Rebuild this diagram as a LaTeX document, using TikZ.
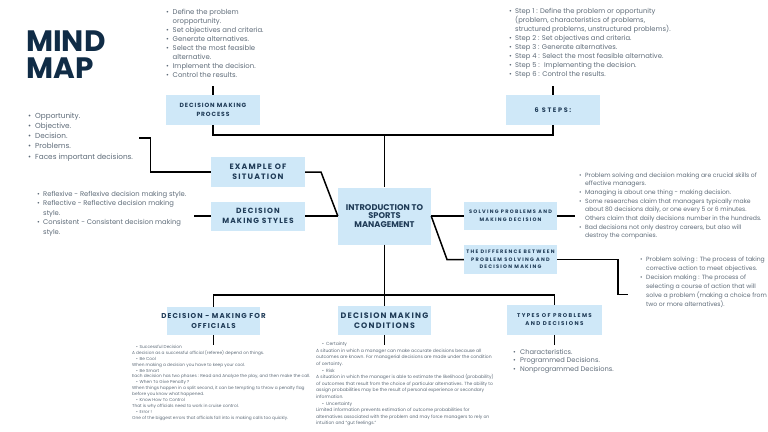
\documentclass[tikz,border=0pt]{standalone}
\usepackage{fontspec}
\setmainfont{Poppins}
\newfontfamily\hf{Poppins}[LetterSpace=15]
\newfontfamily\hfb{Poppins}[LetterSpace=25]
\definecolor{boxblue}{HTML}{CFE8F8}
\definecolor{navy}{HTML}{1F3B57}
\definecolor{titlenavy}{HTML}{102C46}
\definecolor{bodygrey}{HTML}{5E6B78}
\newlength\bw
\newcommand\bu{\makebox[\bw][l]{\textbullet}}
\newcommand\cn{\hspace*{\bw}}
\begin{document}
\begin{tikzpicture}[x=1pt,y=-1pt,
  box/.style={fill=boxblue,inner sep=0pt,align=center,text=navy},
  con/.style={line width=1.5pt,draw=black},
  txt/.style={anchor=north west,inner sep=0pt,align=left,text=bodygrey}]
\useasboundingbox (0,0) rectangle (768,431);

% title
\node[anchor=north west,inner sep=0pt,align=left,text=titlenavy,
  font=\fontsize{29.5}{27}\selectfont\bfseries] (title) at (26,31) {MIND\\MAP};

% boxes
\node[box,minimum width=94pt,minimum height=30pt,font=\fontsize{6}{8.5}\selectfont\hf\bfseries] (DMP) at (213,110) {DECISION MAKING\\PROCESS};
\node[box,minimum width=94pt,minimum height=30pt,font=\fontsize{6.5}{8}\selectfont\hfb\bfseries] (SIX) at (553,110) {6 STEPS:};
\node[box,minimum width=94pt,minimum height=30pt,font=\fontsize{7.8}{10}\selectfont\hf\bfseries] (EX) at (258,172) {EXAMPLE OF\\SITUATION};
\node[box,minimum width=94pt,minimum height=29pt,font=\fontsize{7.5}{10}\selectfont\hf\bfseries] (DMS) at (258,216) {DECISION\\MAKING STYLES};
\node[box,minimum width=93pt,minimum height=57pt,font=\fontsize{8.3}{8.6}\selectfont\bfseries] (C) at (384.5,216) {INTRODUCTION TO\\SPORTS\\MANAGEMENT};
\node[box,minimum width=93pt,minimum height=28pt,font=\fontsize{5}{8}\selectfont\hfb\bfseries] (SP) at (510.5,216) {SOLVING PROBLEMS AND\\MAKING DECISION};
\node[box,minimum width=93pt,minimum height=29pt,font=\fontsize{5}{7.5}\selectfont\hfb\bfseries] (DIFF) at (510.5,259.5) {THE DIFFERENCE BETWEEN\\PROBLEM SOLVING AND\\DECISION MAKING};
\node[box,minimum width=93pt,minimum height=28pt,font=\fontsize{7.1}{10}\selectfont\hf\bfseries] (OFF) at (213.5,321) {\makebox[0pt]{DECISION - MAKING FOR}\\\makebox[0pt]{OFFICIALS}};
\node[box,minimum width=93pt,minimum height=29pt,font=\fontsize{7.9}{10}\selectfont\hf\bfseries] (COND) at (384.5,320.5) {DECISION MAKING\\CONDITIONS};
\node[box,minimum width=95pt,minimum height=30pt,font=\fontsize{5.5}{8}\selectfont\hfb\bfseries] (TYPES) at (554.5,320) {TYPES OF PROBLEMS\\AND DECISIONS};

% text blocks
\node[txt,font=\fontsize{6.9}{9}\selectfont\setlength\bw{6.5pt}] (tc) at (166,8.7) {%
\bu Define the problem\\
\cn oropportunity.\\
\bu Set objectives and criteria.\\
\bu Generate alternatives.\\
\bu Select the most feasible\\
\cn alternative.\\
\bu Implement the decision.\\
\bu Control the results.};

\node[txt,font=\fontsize{6.8}{9}\selectfont\setlength\bw{6pt}] (tr) at (509,7.7) {%
\bu Step 1 : Define the problem or opportunity\\
\cn (problem, characteristics of problems,\\
\cn structured problems, unstructured problems).\\
\bu Step 2 : Set objectives and criteria.\\
\bu Step 3 : Generate alternatives.\\
\bu Step 4 : Select the most feasible alternative.\\
\bu Step 5 : \ Implementing the decision.\\
\bu Step 6 : Control the results.};

\node[txt,font=\fontsize{7.3}{10.2}\selectfont\setlength\bw{7pt}] (ll) at (28,112.5) {%
\bu Opportunity.\\
\bu Objective.\\
\bu Decision.\\
\bu Problems.\\
\bu Faces important decisions.};

\node[txt,font=\fontsize{6.8}{9.5}\selectfont\setlength\bw{6pt}] (rl) at (37,190.9) {%
\bu Reflexive - Reflexive decision making style.\\
\bu Reflective - Reflective decision making\\
\cn style.\\
\bu Consistent - Consistent decision making\\
\cn style.};

\node[txt,font=\fontsize{6.1}{8.7}\selectfont\setlength\bw{6pt}] (rt) at (579,172.2) {%
\bu Problem solving and decision making are crucial skills of\\
\cn effective managers.\\
\bu Managing is about one thing - making decision.\\
\bu Some researches claim that managers typically make\\
\cn about 80 decisions daily, or one every 5 or 6 minutes.\\
\cn Others claim that daily decisions number in the hundreds.\\
\bu Bad decisions not only destroy careers, but also will\\
\cn destroy the companies.};

\node[txt,font=\fontsize{6.1}{8.9}\selectfont\setlength\bw{6pt}] (rb) at (640,257) {%
\bu Problem solving : The process of taking\\
\cn corrective action to meet objectives.\\
\bu Decision making : The process of\\
\cn selecting a course of action that will\\
\cn solve a problem (making a choice from\\
\cn two or more alternatives).};

\node[txt,font=\fontsize{6.7}{8.6}\selectfont\setlength\bw{7pt}] (br) at (513,349) {%
\bu Characteristics.\\
\bu Programmed Decisions.\\
\bu Nonprogrammed Decisions.};

\node[txt,font=\fontsize{4.3}{5.9}\selectfont\setlength\bw{3.5pt}] (bl) at (132,345) {%
\hspace*{4pt}\bu Successful Decision\\
A decision as a successful official (referee) depend on things.\\
\hspace*{4pt}\bu Be Cool\\
When making a decision you have to keep your cool.\\
\hspace*{4pt}\bu Be Smart\\
Each decision has two phases : Read and Analyze the play, and then make the call.\\
\hspace*{4pt}\bu When To Give Penalty ?\\
When things happen in a split second, it can be tempting to throw a penalty flag\\
before you know what happened.\\
\hspace*{4pt}\bu Know How To Control\\
That is why officials need to work in cruise control.\\
\hspace*{4pt}\bu Error !\\
One of the biggest errors that officials fall into is making calls too quickly.};

\node[txt,font=\fontsize{4.5}{6.6}\selectfont\setlength\bw{4pt}] (bc) at (316,342) {%
\hspace*{6pt}\bu Certainty\\
A situation in which a manager can make accurate decisions because all\\
outcomes are known. For managerial decisions are made under the condition\\
of certainty.\\
\hspace*{6pt}\bu Risk\\
A situation in which the manager is able to estimate the likelihood (probability)\\
of outcomes that result from the choice of particular alternatives. The ability to\\
assign probabilities may be the result of personal experience or secondary\\
information.\\
\hspace*{6pt}\bu Uncertainty\\
Limited information prevents estimation of outcome probabilities for\\
alternatives associated with the problem and may force managers to rely on\\
intuition and “gut feelings.”};

% connector points
\coordinate (t1) at (213,86);
\coordinate (t2) at (553,86);
\coordinate (top) at (384.5,135);
\coordinate (bot) at (384.5,295);
\coordinate (o1) at (213.5,345);
\coordinate (c1) at (384.5,344.5);
\coordinate (ty1) at (554.5,344.5);
\coordinate (lb) at (139,138);
\coordinate (lbk) at (150.5,138);
\coordinate (exk) at (321,172);
\coordinate (ls) at (194,216);
\coordinate (dk) at (447,259.5);
\coordinate (sp1) at (575,216);
\coordinate (dk2) at (618,259.5);
\coordinate (de) at (628,294.5);

% connectors
\draw[con] (t1) -- (DMP.north);
\draw[con] (t2) -- (SIX.north);
\draw[con] (DMP.south) |- (top) -| (SIX.south);
\draw[con] (top) -- (C.north);
\draw[con] (C.south) -- (bot);
\draw[con] (OFF.north) |- (bot) -| (TYPES.north);
\draw[con] (bot) -- (COND.north);
\draw[con] (OFF.south) -- (o1);
\draw[con] (COND.south) -- (c1);
\draw[con] (TYPES.south) -- (ty1);
\draw[con] (lb) -- (lbk) |- (EX.west);
\draw[con] (EX.east) -- (exk) -- (C.west);
\draw[con] (DMS.east) -- (C.west);
\draw[con] (ls) -- (DMS.west);
\draw[con] (C.east) -- (SP.west);
\draw[con] (C.east) -- (dk) -- (DIFF.west);
\draw[con] (SP.east) -- (sp1);
\draw[con] (DIFF.east) -- (dk2) |- (de);
\end{tikzpicture}
\end{document}
